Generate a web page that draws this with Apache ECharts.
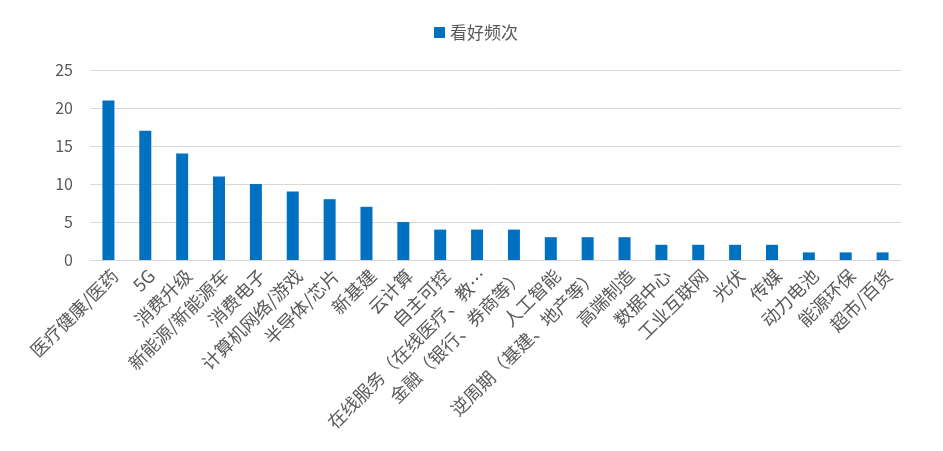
<!DOCTYPE html>
<html><head><meta charset="utf-8">
<script src="https://cdn.jsdelivr.net/npm/echarts@6/dist/echarts.min.js"></script>
<style>html,body{margin:0;padding:0;background:#fff}#c{width:943px;height:451px}</style>
</head><body><div id="c"></div>
<script>
const categories = ["医疗健康/医药","5G","消费升级","新能源/新能源车","消费电子","计算机网络/游戏","半导体/芯片","新基建","云计算","自主可控","在线服务（在线医疗、教…","金融（银行、券商等）","人工智能","逆周期（基建、地产等）","高端制造","数据中心","工业互联网","光伏","传媒","动力电池","能源环保","超市/百货"];
const values = [21,17,14,11,10,9,8,7,5,4,4,4,3,3,3,2,2,2,2,1,1,1];
const seriesName = "看好频次";
const yTicks = [0,5,10,15,20,25];
const font = "'Noto Sans CJK SC', 'Noto Sans', sans-serif";
const chart = echarts.init(document.getElementById('c'));
chart.setOption({
  animation:false,
  legend:{top:19,left:429,itemWidth:11,itemHeight:11,itemGap:3,icon:'rect',
    textStyle:{color:'#595959',fontSize:17,fontFamily:font},data:[seriesName]},
  grid:{left:90,right:42,top:70,bottom:191,containLabel:false},
  xAxis:{type:'category',data:categories,
    axisLine:{lineStyle:{color:'#d9d9d9'}},axisTick:{show:false},
    axisLabel:{rotate:45,interval:0,color:'#595959',fontSize:18,fontFamily:font,margin:6,verticalAlign:'top'}},
  yAxis:{type:'value',min:yTicks[0],max:yTicks[yTicks.length-1],interval:5,
    axisLine:{show:false},axisTick:{show:false},
    splitLine:{lineStyle:{color:'#d9d9d9'}},
    axisLabel:{color:'#595959',fontSize:16,fontFamily:font,margin:17}},
  series:[{name:seriesName,type:'bar',data:values,barWidth:12,itemStyle:{color:'#0070c0'}}]
});
</script></body></html>
